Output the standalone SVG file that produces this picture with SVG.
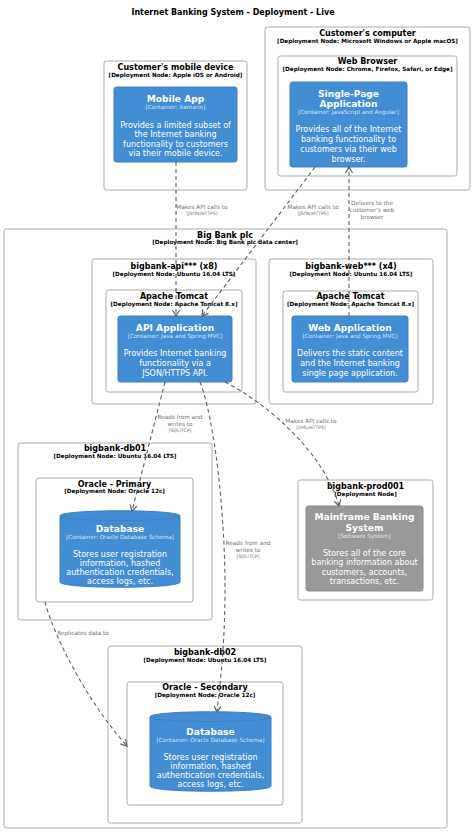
<svg xmlns="http://www.w3.org/2000/svg" width="474" height="840" viewBox="0 0 474 840">
<style>
text{font-family:"DejaVu Sans","Liberation Sans",sans-serif;text-anchor:middle}
.nd{fill:#fff;stroke:#ababab;stroke-width:1}
.ct{fill:#438DD5;stroke:#3C7FC0;stroke-width:1}
.ext{fill:#999999;stroke:#8A8A8A;stroke-width:1}
.ttl{font-size:8px;font-weight:bold;fill:#000}
.nt{font-size:8px;font-weight:bold;fill:#000}
.ns{font-size:5.7px;font-weight:bold;fill:#000}
.cn{font-size:9.1px;font-weight:bold;fill:#fff}
.cg{font-size:5.7px;fill:#d4e4f5}
.eg{font-size:5.7px;fill:#e6e6e6}
.cd{font-size:8px;fill:#fff}
.lb{font-size:5.7px;fill:#707070}
.lt{font-size:4.6px;fill:#707070}
.cx{fill:none;stroke:#606060;stroke-width:1.1;stroke-dasharray:4,3;marker-end:url(#ah)}
</style>
<defs>
<marker id="ah" markerWidth="10" markerHeight="10" refX="8" refY="5" orient="auto" markerUnits="userSpaceOnUse">
<path d="M2,1.5 L8,5 L2,8.5" fill="none" stroke="#606060" stroke-width="1.2"/>
</marker>
</defs>
<rect width="474" height="840" fill="#fff"/>
<text class="ttl" x="233" y="15">Internet Banking System - Deployment - Live</text>

<g id="customers-computer">
<rect class="nd" x="265" y="27" width="205" height="163" rx="2.5"/>
<text class="nt" x="367.5" y="36">Customer's computer</text>
<text class="ns" x="367.5" y="42.5">[Deployment Node: Microsoft Windows or Apple macOS]</text>
</g>
<g id="web-browser">
<rect class="nd" x="278" y="56" width="179" height="120" rx="2.5"/>
<text class="nt" x="367.5" y="64">Web Browser</text>
<text class="ns" x="367.5" y="71">[Deployment Node: Chrome, Firefox, Safari, or Edge]</text>
</g>
<g id="spa">
<rect class="ct" x="290" y="82" width="117" height="85" rx="2.5"/>
<text class="cn" x="348.5" y="96.5">Single-Page</text>
<text class="cn" x="348.5" y="106.5">Application</text>
<text class="cg" x="348.5" y="114">[Container: JavaScript and Angular]</text>
<text class="cd" x="348.5" y="131.5">Provides all of the Internet</text>
<text class="cd" x="348.5" y="141.5">banking functionality to</text>
<text class="cd" x="348.5" y="151.5">customers via their web</text>
<text class="cd" x="348.5" y="161.5">browser.</text>
</g>

<g id="mobile-device">
<rect class="nd" x="104" y="61" width="143" height="129" rx="2.5"/>
<text class="nt" x="175.5" y="70">Customer's mobile device</text>
<text class="ns" x="175.5" y="76.5">[Deployment Node: Apple iOS or Android]</text>
</g>
<g id="mobile-app">
<rect class="ct" x="114" y="87" width="123" height="75" rx="2.5"/>
<text class="cn" x="175.5" y="101.5">Mobile App</text>
<text class="cg" x="175.5" y="109">[Container: Xamarin]</text>
<text class="cd" x="175.5" y="127.5">Provides a limited subset of</text>
<text class="cd" x="175.5" y="137">the Internet banking</text>
<text class="cd" x="175.5" y="146.5">functionality to customers</text>
<text class="cd" x="175.5" y="156">via their mobile device.</text>
</g>

<g id="big-bank">
<rect class="nd" x="4" y="229" width="443" height="599" rx="2.5"/>
<text class="nt" x="225" y="237.5">Big Bank plc</text>
<text class="ns" x="225" y="244">[Deployment Node: Big Bank plc data center]</text>
</g>

<g id="bigbank-api">
<rect class="nd" x="92" y="259" width="164" height="145" rx="2.5"/>
<text class="nt" x="174" y="268.5">bigbank-api*** (x8)</text>
<text class="ns" x="174" y="275.5">[Deployment Node: Ubuntu 16.04 LTS]</text>
</g>
<g id="api-tomcat">
<rect class="nd" x="106" y="290" width="136" height="102" rx="2.5"/>
<text class="nt" x="174" y="299">Apache Tomcat</text>
<text class="ns" x="174" y="305.5">[Deployment Node: Apache Tomcat 8.x]</text>
</g>
<g id="api-app">
<rect class="ct" x="118" y="316" width="114" height="66" rx="2.5"/>
<text class="cn" x="175" y="330.5">API Application</text>
<text class="cg" x="175" y="337.5">[Container: Java and Spring MVC]</text>
<text class="cd" x="175" y="355.5">Provides Internet banking</text>
<text class="cd" x="175" y="365.5">functionality via a</text>
<text class="cd" x="175" y="375.5">JSON/HTTPS API.</text>
</g>

<g id="bigbank-web">
<rect class="nd" x="269" y="259" width="164" height="145" rx="2.5"/>
<text class="nt" x="351" y="268.5">bigbank-web*** (x4)</text>
<text class="ns" x="351" y="275.5">[Deployment Node: Ubuntu 16.04 LTS]</text>
</g>
<g id="web-tomcat">
<rect class="nd" x="283" y="291" width="135" height="101" rx="2.5"/>
<text class="nt" x="350.5" y="299">Apache Tomcat</text>
<text class="ns" x="350.5" y="305.5">[Deployment Node: Apache Tomcat 8.x]</text>
</g>
<g id="web-app">
<rect class="ct" x="292" y="316" width="116" height="66" rx="2.5"/>
<text class="cn" x="350" y="330.5">Web Application</text>
<text class="cg" x="350" y="337.5">[Container: Java and Spring MVC]</text>
<text class="cd" x="350" y="355.5">Delivers the static content</text>
<text class="cd" x="350" y="365.5">and the Internet banking</text>
<text class="cd" x="350" y="375.5">single page application.</text>
</g>

<g id="bigbank-db01">
<rect class="nd" x="18" y="443" width="194" height="177" rx="2.5"/>
<text class="nt" x="115" y="451">bigbank-db01</text>
<text class="ns" x="115" y="458">[Deployment Node: Ubuntu 16.04 LTS]</text>
</g>
<g id="oracle-primary">
<rect class="nd" x="36" y="478" width="157" height="124" rx="2.5"/>
<text class="nt" x="114.5" y="486.5">Oracle - Primary</text>
<text class="ns" x="114.5" y="493">[Deployment Node: Oracle 12c]</text>
</g>
<g id="db-primary">
<path class="ct" d="M60,516 C60,509 180,509 180,516 L180,582 C180,589 60,589 60,582 Z"/>
<path d="M60,516 C60,522 180,522 180,516" fill="none" stroke="#3C7FC0" stroke-width="0.8"/>
<text class="cn" x="120" y="531.5">Database</text>
<text class="cg" x="120" y="538.5">[Container: Oracle Database Schema]</text>
<text class="cd" x="120" y="556.5">Stores user registration</text>
<text class="cd" x="120" y="565.5">information, hashed</text>
<text class="cd" x="120" y="574.5">authentication credentials,</text>
<text class="cd" x="120" y="584">access logs, etc.</text>
</g>

<g id="bigbank-prod001">
<rect class="nd" x="298" y="480" width="135" height="120" rx="2.5"/>
<text class="nt" x="365.5" y="488.5">bigbank-prod001</text>
<text class="ns" x="365.5" y="495.5">[Deployment Node]</text>
</g>
<g id="mainframe">
<rect class="ext" x="306" y="506" width="117" height="85" rx="2.5"/>
<text class="cn" x="364.5" y="520">Mainframe Banking</text>
<text class="cn" x="364.5" y="530.5">System</text>
<text class="eg" x="364.5" y="538">[Software System]</text>
<text class="cd" x="364.5" y="555.5">Stores all of the core</text>
<text class="cd" x="364.5" y="565">banking information about</text>
<text class="cd" x="364.5" y="574.5">customers, accounts,</text>
<text class="cd" x="364.5" y="584">transactions, etc.</text>
</g>

<g id="bigbank-db02">
<rect class="nd" x="108" y="646" width="194" height="177" rx="2.5"/>
<text class="nt" x="205" y="655">bigbank-db02</text>
<text class="ns" x="205" y="661.5">[Deployment Node: Ubuntu 16.04 LTS]</text>
</g>
<g id="oracle-secondary">
<rect class="nd" x="127" y="682" width="156" height="123" rx="2.5"/>
<text class="nt" x="205" y="690">Oracle - Secondary</text>
<text class="ns" x="205" y="696.5">[Deployment Node: Oracle 12c]</text>
</g>
<g id="db-secondary">
<path class="ct" d="M150,717 C150,710 271,710 271,717 L271,786 C271,793 150,793 150,786 Z"/>
<path d="M150,717 C150,723 271,723 271,717" fill="none" stroke="#3C7FC0" stroke-width="0.8"/>
<text class="cn" x="210.5" y="734.5">Database</text>
<text class="cg" x="210.5" y="741.5">[Container: Oracle Database Schema]</text>
<text class="cd" x="210.5" y="759.5">Stores user registration</text>
<text class="cd" x="210.5" y="768.5">information, hashed</text>
<text class="cd" x="210.5" y="777.5">authentication credentials,</text>
<text class="cd" x="210.5" y="787">access logs, etc.</text>
</g>

<g id="connectors">
<path class="cx" d="M176,162 L176,316"/>
<text class="lb" x="202" y="209">Makes API calls to</text>
<text class="lt" x="202" y="214.5">[JSON/HTTPS]</text>

<path class="cx" d="M315,167 L202,316"/>
<text class="lb" x="313" y="209">Makes API calls to</text>
<text class="lt" x="313" y="214.5">[JSON/HTTPS]</text>

<path class="cx" d="M349,316 L349,167"/>
<text class="lb" x="372" y="205">Delivers to the</text>
<text class="lb" x="372" y="212">customer's web</text>
<text class="lb" x="372" y="219">browser</text>

<path class="cx" d="M165,382 L132,511"/>
<text class="lb" x="180" y="419">Reads from and</text>
<text class="lb" x="180" y="426">writes to</text>
<text class="lt" x="180" y="432">[SQL/TCP]</text>

<path class="cx" d="M200,382 C215,420 226,520 225,600 C224,660 219,690 217,712"/>
<text class="lb" x="248" y="545">Reads from and</text>
<text class="lb" x="248" y="552">writes to</text>
<text class="lt" x="248" y="558">[SQL/TCP]</text>

<path class="cx" d="M225,382 C270,405 325,455 339,506"/>
<text class="lb" x="311" y="423">Makes API calls to</text>
<text class="lt" x="311" y="428.5">[XML/HTTPS]</text>

<path class="cx" d="M45,602 C55,640 90,705 127,746"/>
<text class="lb" x="83" y="635">Replicates data to</text>
</g>
</svg>
